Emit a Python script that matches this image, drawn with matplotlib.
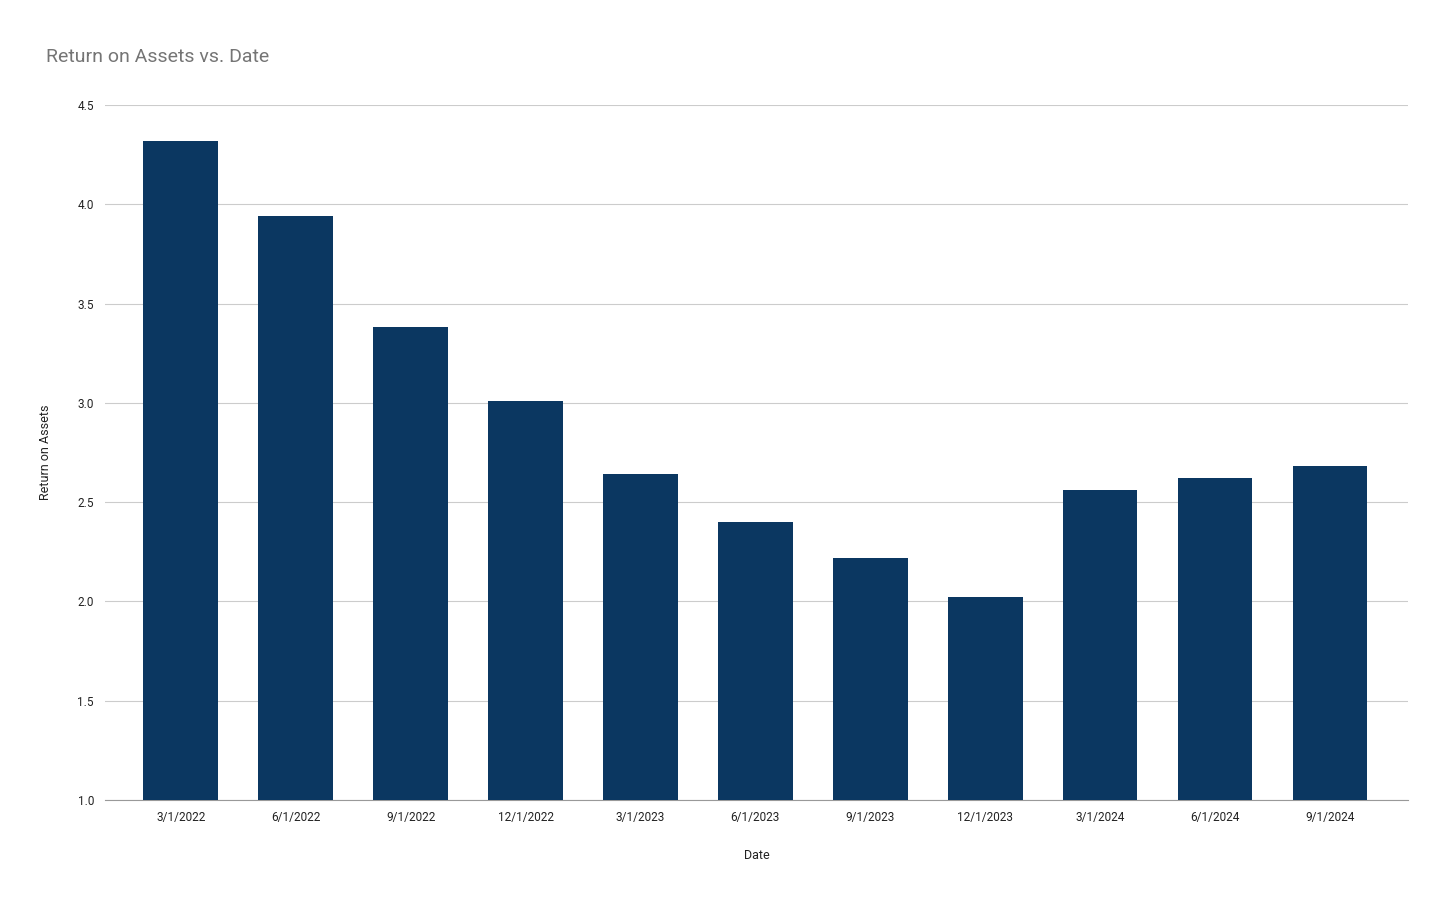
import matplotlib
matplotlib.use('Agg')
import matplotlib.pyplot as plt

dates = ['3/1/2022', '6/1/2022', '9/1/2022', '12/1/2022', '3/1/2023', '6/1/2023',
         '9/1/2023', '12/1/2023', '3/1/2024', '6/1/2024', '9/1/2024']
roa = [4.32, 3.94, 3.38, 3.01, 2.64, 2.40, 2.22, 2.02, 2.56, 2.62, 2.68]
yticks = [1.0, 1.5, 2.0, 2.5, 3.0, 3.5, 4.0, 4.5]

plt.rcParams['font.family'] = ['Roboto', 'DejaVu Sans']
fig = plt.figure(figsize=(14.52, 8.97), dpi=100)
ax = fig.add_axes([105/1452, 97/897, 1303/1452, 695/897])

x = list(range(len(dates)))
ax.bar(x, [v - 1.0 for v in roa], bottom=1.0, width=0.65, color='#0b3761', zorder=3)

ax.set_ylim(1.0, 4.5)
ax.set_xlim(-0.66, 10.68)
ax.set_yticks(yticks)
ax.set_yticklabels(['%.1f' % t for t in yticks], fontsize=8.5, color='#222222')
ax.set_xticks(x)
ax.set_xticklabels(dates, fontsize=8.5, color='#222222')
ax.tick_params(length=0, pad=8)
ax.grid(axis='y', color='#cccccc', linewidth=0.8, zorder=0)
for s in ['top', 'right', 'left']:
    ax.spines[s].set_visible(False)
ax.spines['bottom'].set_color('#999999')

ax.set_xlabel('Date', fontsize=9, color='#222222', labelpad=18)
ax.set_ylabel('Return on Assets', fontsize=9, color='#222222', labelpad=18)
fig.text(46/1452, 1 - 57/897, 'Return on Assets vs. Date', fontsize=14,
         color='#757575', va='center', ha='left')

fig.savefig('out.png', dpi=100, facecolor='white')
